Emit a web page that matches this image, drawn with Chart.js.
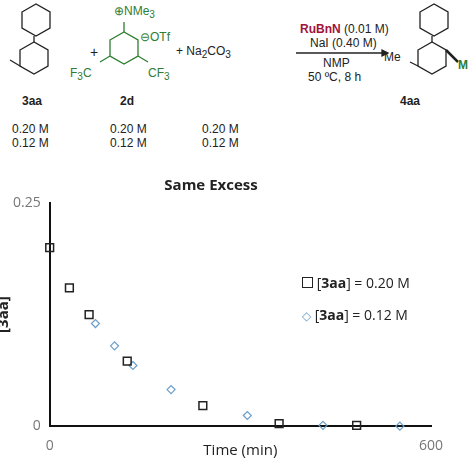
<!DOCTYPE html>
<html><head><meta charset="utf-8">
<script src="https://cdn.jsdelivr.net/npm/chart.js@4/dist/chart.umd.min.js"></script>
<style>
body{margin:0;width:474px;height:474px;position:relative;background:#fff;font-family:"Liberation Sans",Arial,sans-serif;overflow:hidden}
.t{position:absolute;font-size:12px;color:#222;white-space:nowrap}
.g{color:#2e7d32}
#cv{position:absolute;left:-9px;top:177px}
.lg{position:absolute;font-family:"Open Sans",sans-serif;font-size:14px;color:#222}
</style></head><body>
<svg width="474" height="170" style="position:absolute;left:0;top:0" fill="none" stroke="#222" stroke-width="1.3">
<polygon points="22,12 36,4 50,12 50,28 36,36 22,28"/>
<polygon points="20,50 34,42 48,50 48,66 34,74 20,66"/>
<line x1="34" y1="36" x2="34" y2="42"/><line x1="20" y1="66" x2="10" y2="60"/>
<g stroke="#2e7d32"><polygon points="110,40 124,32 138,40 138,56 124,64 110,56"/>
<line x1="124" y1="32" x2="124" y2="22"/><line x1="110" y1="56" x2="100" y2="62"/><line x1="138" y1="56" x2="148" y2="62"/></g>
<line x1="296" y1="53" x2="382" y2="53"/><polygon points="382,50 388,53 382,56" fill="#222"/>
<polygon points="420,12 434,4 448,12 448,28 434,36 420,28"/>
<polygon points="418,50 432,42 446,50 446,66 432,74 418,66"/>
<line x1="432" y1="36" x2="432" y2="42"/><line x1="418" y1="66" x2="410" y2="62"/><line x1="446" y1="50" x2="458" y2="62" stroke-width="2.5"/>
</svg>
<div class="t g" style="left:114px;top:4px">⊕NMe<sub>3</sub></div>
<div class="t g" style="left:140px;top:30px">⊖OTf</div>
<div class="t g" style="left:70px;top:66px">F<sub>3</sub>C</div>
<div class="t g" style="left:148px;top:66px">CF<sub>3</sub></div>
<div class="t" style="left:90px;top:44px;font-size:14px">+</div>
<div class="t" style="left:176px;top:44px">+ Na<sub>2</sub>CO<sub>3</sub></div>
<div class="t" style="left:300px;top:22px"><b style="color:#a0143c">RuBnN</b> (0.01 M)</div>
<div class="t" style="left:310px;top:36px">NaI (0.40 M)</div>
<div class="t" style="left:323px;top:56px">NMP</div>
<div class="t" style="left:308px;top:70px">50 ºC, 8 h</div>
<div class="t" style="left:384px;top:50px">Me</div>
<div class="t g" style="left:458px;top:58px;font-weight:bold">M</div>
<div class="t" style="left:22px;top:94px;font-weight:bold">3aa</div>
<div class="t" style="left:120px;top:94px;font-weight:bold">2d</div>
<div class="t" style="left:400px;top:94px;font-weight:bold">4aa</div>
<div class="t" style="left:12px;top:122px">0.20 M<br>0.12 M</div>
<div class="t" style="left:110px;top:122px">0.20 M<br>0.12 M</div>
<div class="t" style="left:202px;top:122px">0.20 M<br>0.12 M</div>
<canvas id="cv" width="480" height="287"></canvas>
<div class="lg" style="left:302px;top:273px"><span style="display:inline-block;width:9px;height:9px;border:1.5px solid #222"></span> [<b>3aa</b>] = 0.20 M</div>
<div class="lg" style="left:302px;top:305px"><span style="color:#6a9ec9;font-size:12px">◇</span> [<b>3aa</b>] = 0.12 M</div>
<script>
const tA=[0,31,62,122,241,361,483];
const cA=[0.20,0.155,0.125,0.073,0.023,0.003,0.001];
const tB=[72,102,131,191,311,430,551];
const cB=[0.115,0.090,0.068,0.041,0.012,0.001,0];
const xTicks=[0,600], yTicks=[0,0.25];
new Chart(document.getElementById('cv'),{type:'scatter',
data:{datasets:[
{label:'[3aa] = 0.20 M',data:tA.map((x,i)=>({x,y:cA[i]})),pointStyle:'rect',pointRadius:5.5,borderColor:'#222',backgroundColor:'rgba(0,0,0,0)',borderWidth:1.5},
{label:'[3aa] = 0.12 M',data:tB.map((x,i)=>({x,y:cB[i]})),pointStyle:'rectRot',pointRadius:4,borderColor:'#6a9ec9',backgroundColor:'rgba(0,0,0,0)',borderWidth:1.2}]},
options:{responsive:false,animation:false,clip:false,layout:{padding:{left:0,right:40,top:0,bottom:0}},
plugins:{legend:{display:false},tooltip:{enabled:false},
title:{display:true,text:'Same Excess',font:{family:'Open Sans',size:15,weight:'bold'},color:'#222',padding:{top:0,bottom:8}}},
scales:{
x:{type:'linear',min:0,max:600,afterBuildTicks:a=>{a.ticks=xTicks.map(v=>({value:v}))},
grid:{display:false,drawTicks:true,tickLength:5,color:'#111'},border:{color:'#111',width:2},
ticks:{color:'#777',font:{family:'Open Sans',size:14},padding:6},
title:{display:true,text:'Time (min)',font:{family:'Open Sans',size:15},color:'#222',padding:{top:-18}}},
y:{min:0,max:0.25,afterBuildTicks:a=>{a.ticks=yTicks.map(v=>({value:v}))},
grid:{display:false,tickLength:5},border:{color:'#111',width:2},
ticks:{color:'#777',font:{family:'Open Sans',size:14},padding:4,callback:v=>v===0?'0':String(v)},
title:{display:true,text:'[3aa]',font:{family:'Open Sans',size:15,weight:'bold'},color:'#222',padding:{bottom:-4}}}}}});
</script></body></html>
